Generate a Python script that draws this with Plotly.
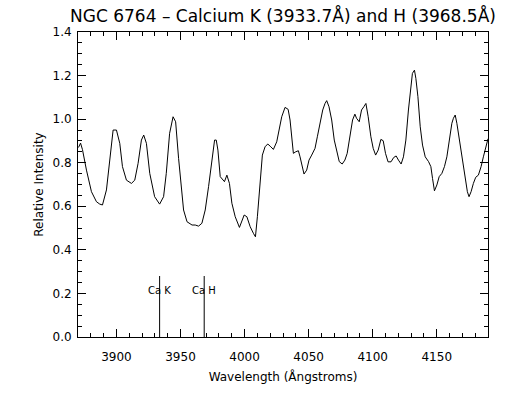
import plotly.graph_objects as go

# spectrum
wavelength = [
    3870.4, 3872.0, 3873.5, 3876.6, 3880.5, 3884.4, 3887.0, 3889.1, 3892.2, 3894.8,
    3897.4, 3900.0, 3902.6, 3904.7, 3907.8, 3911.7, 3914.3, 3916.9, 3919.5, 3921.3,
    3923.4, 3926.0, 3929.8, 3933.7, 3936.8, 3938.9, 3941.5, 3944.2, 3946.2, 3948.5,
    3950.5, 3952.4, 3955.1, 3959.0, 3961.5, 3964.1, 3966.7, 3969.3, 3971.9, 3974.5,
    3976.6, 3977.9, 3979.2, 3981.0, 3983.1, 3984.3, 3986.2, 3988.2, 3990.1, 3992.7,
    3996.0, 3997.9, 3999.7, 4001.8, 4004.4, 4006.9, 4008.5, 4010.0, 4012.1, 4013.9,
    4016.0, 4018.1, 4020.5, 4022.5, 4025.1, 4027.2, 4029.0, 4031.6, 4034.0, 4035.5,
    4036.8, 4038.1, 4039.9, 4042.0, 4043.3, 4044.6, 4046.4, 4048.5, 4050.3, 4052.4,
    4055.0, 4056.8, 4058.9, 4061.0, 4062.8, 4064.1, 4065.9, 4068.0, 4070.0, 4071.9,
    4073.9, 4076.2, 4078.3, 4080.1, 4082.2, 4084.3, 4086.1, 4087.4, 4089.5, 4091.3,
    4093.1, 4094.7, 4096.5, 4098.6, 4100.4, 4102.3, 4104.3, 4106.4, 4108.2, 4110.0,
    4112.0, 4114.3, 4116.4, 4118.3, 4120.1, 4122.2, 4124.0, 4125.9, 4127.9, 4130.0,
    4131.0, 4132.6, 4133.7, 4135.3, 4137.1, 4138.9, 4141.0, 4143.6, 4145.4, 4146.7,
    4148.2, 4150.1, 4151.9, 4154.0, 4156.0, 4157.9, 4159.9, 4161.8, 4163.0, 4164.4,
    4165.7, 4167.4, 4169.6, 4172.1, 4173.9, 4175.2, 4176.8, 4178.6, 4180.4, 4182.5,
    4184.6, 4186.4, 4188.2, 4190.0,
]
intensity = [
    0.870, 0.890, 0.860, 0.766, 0.667, 0.621, 0.610, 0.606, 0.675, 0.812,
    0.950, 0.950, 0.889, 0.782, 0.720, 0.705, 0.720, 0.797, 0.904, 0.927,
    0.889, 0.751, 0.644, 0.610, 0.644, 0.751, 0.935, 1.011, 0.988, 0.820,
    0.680, 0.583, 0.529, 0.514, 0.514, 0.509, 0.522, 0.583, 0.690, 0.812,
    0.904, 0.904, 0.858, 0.736, 0.720, 0.713, 0.743, 0.705, 0.614, 0.552,
    0.503, 0.529, 0.560, 0.552, 0.506, 0.476, 0.460, 0.552, 0.705, 0.835,
    0.873, 0.886, 0.873, 0.861, 0.896, 0.965, 1.011, 1.054, 1.045, 0.996,
    0.919, 0.843, 0.850, 0.855, 0.827, 0.789, 0.748, 0.766, 0.812, 0.835,
    0.866, 0.919, 0.988, 1.042, 1.072, 1.085, 1.057, 0.996, 0.904, 0.850,
    0.805, 0.794, 0.812, 0.843, 0.919, 0.996, 1.023, 1.004, 0.988, 1.042,
    1.057, 1.072, 1.011, 0.919, 0.866, 0.835, 0.858, 0.907, 0.901, 0.843,
    0.804, 0.804, 0.824, 0.831, 0.812, 0.794, 0.827, 0.904, 1.042, 1.164,
    1.210, 1.225, 1.187, 1.103, 0.965, 0.881, 0.827, 0.805, 0.782, 0.728,
    0.671, 0.698, 0.736, 0.751, 0.782, 0.827, 0.904, 0.981, 1.004, 1.019,
    0.981, 0.919, 0.827, 0.728, 0.667, 0.644, 0.667, 0.705, 0.733, 0.743,
    0.782, 0.827, 0.866, 0.910,
]

# calcium line markers
ca_names = ["Ca K", "Ca H"]
ca_wavelength = [3933.7, 3968.5]
marker_top = 0.28
label_level = 0.215

FONT = "DejaVu Sans"

fig = go.Figure()
fig.add_trace(go.Scatter(x=wavelength, y=intensity, mode="lines",
                         line=dict(color="black", width=1), showlegend=False))
for name, wl in zip(ca_names, ca_wavelength):
    fig.add_trace(go.Scatter(x=[wl, wl], y=[0, marker_top], mode="lines",
                             line=dict(color="black", width=1), showlegend=False))
    fig.add_annotation(x=wl, y=label_level, text=name, showarrow=False,
                       xanchor="center", yanchor="middle",
                       font=dict(family=FONT, size=10, color="black"))

axis_common = dict(
    showline=True, linecolor="black", linewidth=1, mirror="ticks",
    ticks="inside", tickcolor="black", showgrid=False, zeroline=False,
    automargin=False,
    tickfont=dict(family=FONT, size=12, color="black"),
)
fig.update_xaxes(range=[3870, 4190], tick0=3900, dtick=50, ticklen=8,
                 minor=dict(dtick=10, ticks="inside", ticklen=4, tickcolor="black"),
                 title=dict(text="Wavelength (Ångstroms)", standoff=9,
                            font=dict(family=FONT, size=12, color="black")),
                 ticklabelstandoff=9, **axis_common)
fig.update_yaxes(range=[0, 1.4], tick0=0, dtick=0.2, tickformat=".1f", ticklen=8,
                 minor=dict(dtick=0.05, ticks="inside", ticklen=4, tickcolor="black"),
                 title=dict(text="Relative Intensity", standoff=6,
                            font=dict(family=FONT, size=12, color="black")),
                 ticklabelstandoff=3, **axis_common)
fig.update_layout(
    width=512, height=400,
    margin=dict(l=78, r=24, t=32, b=63),
    paper_bgcolor="white", plot_bgcolor="white",
    title=dict(text="NGC 6764 – Calcium K (3933.7Å) and H (3968.5Å)",
               x=0.5, xref="paper", xanchor="center",
               y=0.96, yref="container", yanchor="middle",
               font=dict(family=FONT, size=17, color="black")),
)
# page body has a default 8px margin; drop it so the figure sits at the corner
fig.write_html("out.html", config={"displayModeBar": False},
               post_script="document.body.style.margin='0';")
